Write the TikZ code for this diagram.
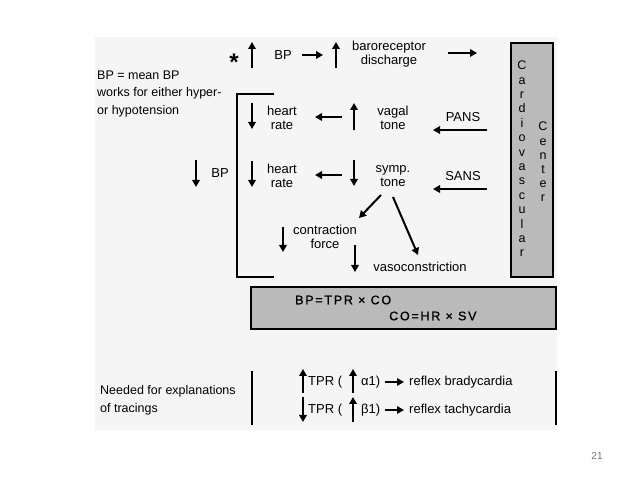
\documentclass[tikz,border=0pt]{standalone}
\usepackage{fontspec}
\setmainfont{Liberation Sans}
\usetikzlibrary{arrows.meta}
\begin{document}
\begin{tikzpicture}[x=1pt,y=-1pt,
  txt/.style={font=\fontsize{13}{14.5}\selectfont,align=center,inner sep=0pt},
  arr/.style={line width=2pt,-{Triangle[length=7pt,width=7.5pt]}},
  graybox/.style={draw=black,line width=1.3pt,fill=black!27}]
\useasboundingbox (0,0) rectangle (638,478);
\fill[black!4] (95,37) rectangle (557,430);
% top row
\node[txt,font=\fontsize{24}{24}\selectfont\bfseries] (star) at (234,62) {*};
\coordinate (u1a) at (252,68); \coordinate (u1b) at (252,42);
\draw[arr] (u1a) -- (u1b);
\node[txt] (bp1) at (283,55) {BP};
\coordinate (r1a) at (302,55); \coordinate (r1b) at (323,55);
\draw[arr] (r1a) -- (r1b);
\coordinate (u2a) at (336,68); \coordinate (u2b) at (336,42);
\draw[arr] (u2a) -- (u2b);
\node[txt] (baro) at (389,54) {baroreceptor\\discharge};
\coordinate (r2a) at (448,53); \coordinate (r2b) at (477,53);
\draw[arr] (r2a) -- (r2b);
% cardiovascular center
\node[graybox,minimum width=42pt,minimum height=234pt,inner sep=0pt] (cvc) at (532,160) {};
\node[txt,font=\fontsize{12.5}{14.4}\selectfont] (cv) at (522,159) {C\\a\\r\\d\\i\\o\\v\\a\\s\\c\\u\\l\\a\\r};
\node[txt,font=\fontsize{12.5}{14.2}\selectfont] (ce) at (543,162) {C\\e\\n\\t\\e\\r};
% left note
\node[txt,align=left,anchor=west,font=\fontsize{12.5}{17.5}\selectfont] (note) at (97,94) {BP = mean BP\\works for either hyper-\\or hypotension};
% bracket
\coordinate (b1) at (274,94); \coordinate (b2) at (274,277);
\draw[line width=1.3pt] (b1) -- (237,94) -- (237,277) -- (b2);
% row 1
\coordinate (d1a) at (252,103); \coordinate (d1b) at (252,129);
\draw[arr] (d1a) -- (d1b);
\node[txt] (hr1) at (282,118) {heart\\rate};
\node[txt] (vt) at (393,118) {vagal\\tone};
\coordinate (l1a) at (342,117); \coordinate (l1b) at (315,117);
\draw[arr] (l1a) -- (l1b);
\coordinate (u3a) at (354,130); \coordinate (u3b) at (354,103);
\draw[arr] (u3a) -- (u3b);
\node[txt] (pans) at (463,117) {PANS};
\coordinate (l2a) at (487,130); \coordinate (l2b) at (433,130);
\draw[arr] (l2a) -- (l2b);
% row 2
\coordinate (d2a) at (196,160); \coordinate (d2b) at (196,187);
\draw[arr] (d2a) -- (d2b);
\node[txt] (bp2) at (220,173) {BP};
\coordinate (d3a) at (252,161); \coordinate (d3b) at (252,187);
\draw[arr] (d3a) -- (d3b);
\node[txt] (hr2) at (282,176) {heart\\rate};
\coordinate (l3a) at (342,175); \coordinate (l3b) at (315,175);
\draw[arr] (l3a) -- (l3b);
\coordinate (d4a) at (354,160); \coordinate (d4b) at (354,186);
\draw[arr] (d4a) -- (d4b);
\node[txt] (st) at (393,176) {symp.\\tone};
\node[txt] (sans) at (463,176) {SANS};
\coordinate (l4a) at (487,189); \coordinate (l4b) at (433,189);
\draw[arr] (l4a) -- (l4b);
% diagonals
\coordinate (g1a) at (381,195); \coordinate (g1b) at (359,218);
\draw[arr] (g1a) -- (g1b);
\coordinate (g2a) at (393,197); \coordinate (g2b) at (418,255);
\draw[arr] (g2a) -- (g2b);
% bottom of bracket
\coordinate (d5a) at (283,227); \coordinate (d5b) at (283,252);
\draw[arr] (d5a) -- (d5b);
\node[txt] (cf) at (325,237) {contraction\\force};
\coordinate (d6a) at (355,245); \coordinate (d6b) at (355,272);
\draw[arr] (d6a) -- (d6b);
\node[txt] (vc) at (420,267) {vasoconstriction};
% formula box
\node[graybox,minimum width=305pt,minimum height=42pt,inner sep=0pt] (fbox) at (403.5,308) {};
\node[txt,anchor=west,font=\fontsize{12.5}{13}\selectfont\addfontfeature{LetterSpace=14,FakeBold=1}] (f1) at (295,300) {BP=TPR × CO};
\node[txt,anchor=west,font=\fontsize{12.5}{13}\selectfont\addfontfeature{LetterSpace=14,FakeBold=1}] (f2) at (389,316) {CO=HR × SV};
% lower section
\node[txt,align=left,anchor=west,font=\fontsize{12.5}{18}\selectfont] (need) at (100,400) {Needed for explanations\\of tracings};
\coordinate (v1a) at (252,371); \coordinate (v1b) at (252,425);
\draw[line width=1.3pt] (v1a) -- (v1b);
\coordinate (v2a) at (556,371); \coordinate (v2b) at (556,425);
\draw[line width=1.3pt] (v2a) -- (v2b);
\coordinate (e1a) at (303,393); \coordinate (e1b) at (303,369);
\draw[arr] (e1a) -- (e1b);
\node[txt,anchor=west] (t1) at (308,382) {TPR (};
\coordinate (e2a) at (353,393); \coordinate (e2b) at (353,369);
\draw[arr] (e2a) -- (e2b);
\node[txt,anchor=west] (t1b) at (361,382) {α1)};
\coordinate (e3a) at (385,382); \coordinate (e3b) at (404,382);
\draw[arr] (e3a) -- (e3b);
\node[txt,anchor=west] (t1c) at (409,382) {reflex bradycardia};
\coordinate (e4a) at (303,397); \coordinate (e4b) at (303,422);
\draw[arr] (e4a) -- (e4b);
\node[txt,anchor=west] (t2) at (308,410) {TPR (};
\coordinate (e5a) at (353,422); \coordinate (e5b) at (353,397);
\draw[arr] (e5a) -- (e5b);
\node[txt,anchor=west] (t2b) at (361,410) {β1)};
\coordinate (e6a) at (385,410); \coordinate (e6b) at (404,410);
\draw[arr] (e6a) -- (e6b);
\node[txt,anchor=west] (t2c) at (409,410) {reflex tachycardia};
\node[txt,text=black!55,font=\fontsize{10}{11}\selectfont] (pg) at (597,456) {21};
\end{tikzpicture}
\end{document}
